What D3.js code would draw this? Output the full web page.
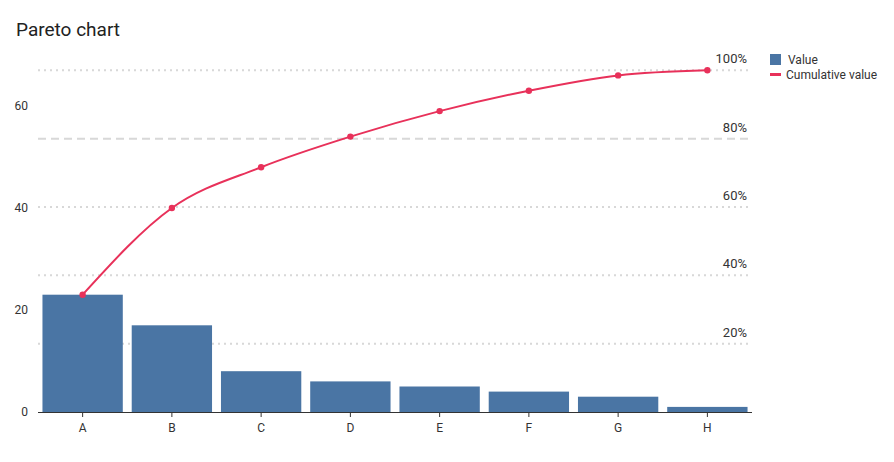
<!DOCTYPE html>
<meta charset="utf-8">
<script src="https://d3js.org/d3.v7.min.js"></script>
<style>body{margin:0;background:#fff;font-family:Roboto,sans-serif}</style>
<div id="chart"></div>
<script>
var categories = ["A", "B", "C", "D", "E", "F", "G", "H"];
var values = [23, 17, 8, 6, 5, 4, 3, 1];
var yTicks = [0, 20, 40, 60];
var pctTicks = [20, 40, 60, 80, 100];

var total = d3.sum(values);
var cumulative = d3.cumsum(values);

var width = 894, height = 462;
var margin = {top: 30, right: 142, bottom: 50, left: 38};

var svg = d3.select("#chart").append("svg")
  .attr("width", width).attr("height", height);

svg.append("text").attr("x", 16).attr("y", 36)
  .style("font-size", "19px").style("fill", "#222").text("Pareto chart");

var x = d3.scaleBand().domain(categories)
  .range([margin.left, width - margin.right]).paddingInner(0.1).paddingOuter(0.05);
var y = d3.scaleLinear().domain([0, 67 / 0.9655]).range([412, 412 - 341.7 / 0.9655]);
// percent scale: 100% = total
var yp = d3.scaleLinear().domain([0, 100]).range([y(0), y(total)]);

// percent gridlines
pctTicks.forEach(function(p) {
  svg.append("line")
    .attr("x1", margin.left).attr("x2", width - margin.right)
    .attr("y1", yp(p)).attr("y2", yp(p))
    .attr("stroke", "#d8d8d8").attr("stroke-width", 2)
    .attr("stroke-dasharray", p === 80 ? "8,5" : "2,4");
  svg.append("text").attr("x", 747).attr("y", yp(p) - 7)
    .attr("text-anchor", "end").style("font-size", "13px").style("fill", "#333")
    .text(p + "%");
});

// left ticks
svg.selectAll(".yt").data(yTicks).enter().append("text")
  .attr("x", 28).attr("y", function(d) { return y(d) + 4; })
  .attr("text-anchor", "end").style("font-size", "12px").style("fill", "#333")
  .text(function(d) { return d; });

// bars
svg.selectAll(".bar").data(values).enter().append("rect")
  .attr("x", function(d, i) { return x(categories[i]); })
  .attr("width", x.bandwidth())
  .attr("y", function(d) { return y(d); })
  .attr("height", function(d) { return y(0) - y(d); })
  .attr("fill", "#4a75a4");

// x axis
svg.append("line").attr("x1", margin.left).attr("x2", width - margin.right)
  .attr("y1", y(0) + 0.5).attr("y2", y(0) + 0.5).attr("stroke", "#333");
categories.forEach(function(c) {
  var cx = x(c) + x.bandwidth() / 2;
  svg.append("line").attr("x1", cx).attr("x2", cx).attr("y1", y(0)).attr("y2", y(0) + 5).attr("stroke", "#333");
  svg.append("text").attr("x", cx).attr("y", 432).attr("text-anchor", "middle")
    .style("font-size", "12px").style("fill", "#333").text(c);
});

// cumulative line
var line = d3.line()
  .x(function(d, i) { return x(categories[i]) + x.bandwidth() / 2; })
  .y(function(d) { return y(d); })
  .curve(d3.curveMonotoneX);
svg.append("path").datum(cumulative).attr("d", line)
  .attr("fill", "none").attr("stroke", "#e8315a").attr("stroke-width", 2);
svg.selectAll(".pt").data(cumulative).enter().append("circle")
  .attr("cx", function(d, i) { return x(categories[i]) + x.bandwidth() / 2; })
  .attr("cy", function(d) { return y(d); })
  .attr("r", 3.2).attr("fill", "#e8315a");

// legend
svg.append("rect").attr("x", 770).attr("y", 54).attr("width", 11).attr("height", 11).attr("fill", "#4a75a4");
svg.append("text").attr("x", 788).attr("y", 64).style("font-size", "12px").style("fill", "#333").text("Value");
svg.append("rect").attr("x", 770).attr("y", 73).attr("width", 11).attr("height", 3).attr("fill", "#e8315a");
svg.append("text").attr("x", 786).attr("y", 79).style("font-size", "12px").style("fill", "#333").text("Cumulative value");
</script>
